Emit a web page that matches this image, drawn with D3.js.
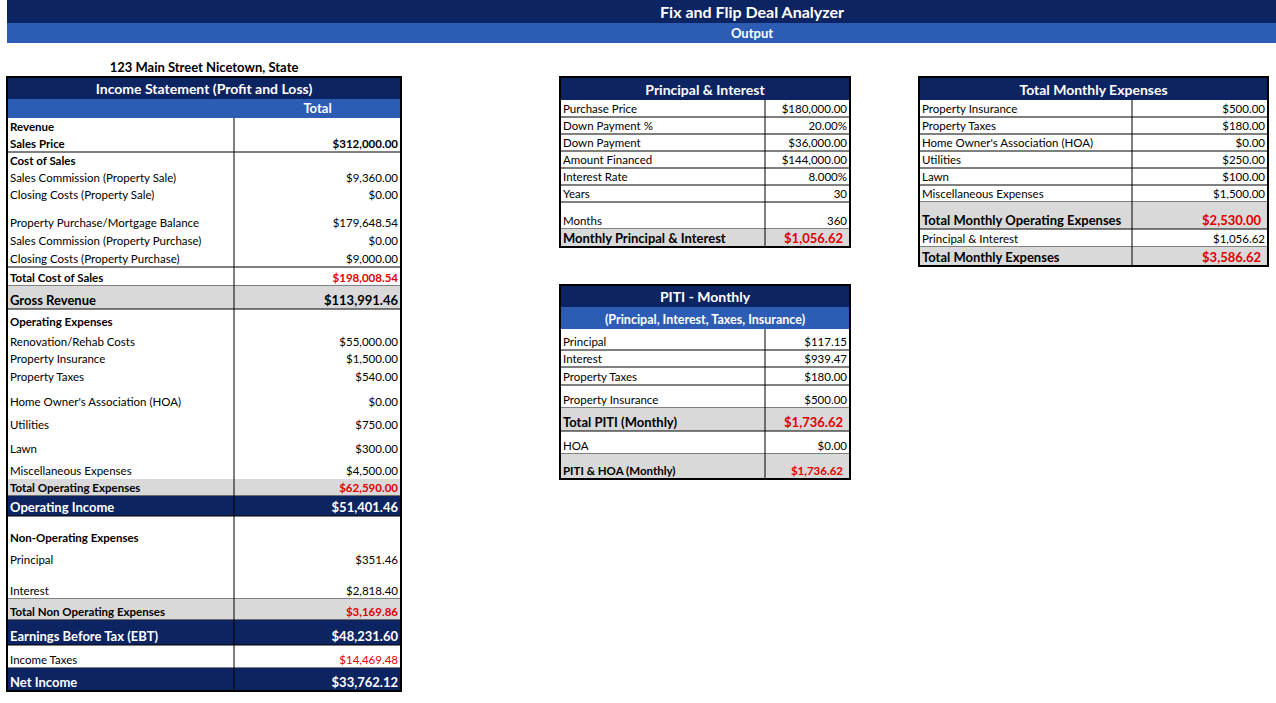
<!DOCTYPE html>
<html lang="en">
<head>
<meta charset="utf-8">
<title>Fix and Flip Deal Analyzer</title>
<script src="https://cdn.jsdelivr.net/npm/d3@7"></script>
<style>
  body { margin: 0; background: #fff; }
  text { font-family: Lato, "Open Sans", sans-serif; }
</style>
</head>
<body>
<script>
// ---- data ----
var incomeLabels = ["Revenue", "Sales Price", "Cost of Sales", "Sales Commission  (Property Sale)", "Closing Costs (Property Sale)",
  "Property Purchase/Mortgage Balance", "Sales Commission  (Property Purchase)", "Closing Costs (Property Purchase)", "Total Cost of Sales",
  "Gross Revenue", "Operating Expenses", "Renovation/Rehab Costs", "Property Insurance", "Property Taxes",
  "Home Owner's Association (HOA)", "Utilities", "Lawn", "Miscellaneous Expenses", "Total Operating Expenses",
  "Operating Income", "Non-Operating Expenses", "Principal", "Interest", "Total Non Operating Expenses",
  "Earnings Before Tax (EBT)", "Income Taxes", "Net Income"];
var incomeValues = ["", "$312,000.00", "", "$9,360.00", "$0.00", "$179,648.54", "$0.00", "$9,000.00", "$198,008.54",
  "$113,991.46", "", "$55,000.00", "$1,500.00", "$540.00", "$0.00", "$750.00", "$300.00", "$4,500.00", "$62,590.00",
  "$51,401.46", "", "$351.46", "$2,818.40", "$3,169.86", "$48,231.60", "$14,469.48", "$33,762.12"];
var incomeKinds = ["bold", "bold", "bold", "plain", "plain", "plain", "plain", "plain", "total",
  "gray", "bold", "plain", "plain", "plain", "plain", "plain", "plain", "plain", "totalg",
  "navy", "bold", "plain", "plain", "totalg", "navy", "red", "navy"];
var incomeBorders = [0, 1, 0, 0, 0, 0, 0, 1, 1, 1, 0, 0, 0, 0, 0, 0, 0, 0, 1, 1, 0, 0, 1, 1, 1, 1, 1];
var incomeHeights = [17, 17, 17, 17, 17, 28, 18, 18, 19, 23, 21, 20, 17, 18, 25, 23, 24, 22, 17, 20, 30, 22, 31, 21, 25, 23, 23];

var piLabels = ["Purchase Price", "Down Payment %", "Down Payment", "Amount Financed", "Interest Rate", "Years", "Months", "Monthly Principal & Interest"];
var piValues = ["$180,000.00", "20.00%", "$36,000.00", "$144,000.00", "8.000%", "30", "360", "$1,056.62"];
var piKinds = ["plain", "plain", "plain", "plain", "plain", "plain", "plain", "grayred"];
var piHeights = [17, 17, 17, 17, 17, 17, 27, 18];

var pitiLabels = ["Principal", "Interest", "Property Taxes", "Property Insurance", "Total PITI (Monthly)", "HOA", "PITI & HOA (Monthly)"];
var pitiValues = ["$117.15", "$939.47", "$180.00", "$500.00", "$1,736.62", "$0.00", "$1,736.62"];
var pitiKinds = ["plain", "plain", "plain", "plain", "grayred", "plain", "grayredsm"];
var pitiHeights = [21, 17, 18, 23, 23, 23, 25];

var expLabels = ["Property Insurance", "Property Taxes", "Home Owner's Association (HOA)", "Utilities", "Lawn", "Miscellaneous Expenses",
  "Total Monthly Operating Expenses", "Principal & Interest", "Total Monthly Expenses"];
var expValues = ["$500.00", "$180.00", "$0.00", "$250.00", "$100.00", "$1,500.00", "$2,530.00", "$1,056.62", "$3,586.62"];
var expKinds = ["plain", "plain", "plain", "plain", "plain", "plain", "grayred", "plain", "grayred"];
var expHeights = [17, 17, 17, 17, 17, 17, 27, 18, 19];

// ---- drawing ----
var W = 1276, H = 703;
var NAVY = "#0c2461", BLUE = "#2d5cb5", GRAY = "#d9d9d9", RED = "#e00000";

var svg = d3.select("body").append("svg").attr("width", W).attr("height", H);

svg.append("rect").attr("x", 7).attr("y", 0).attr("width", W - 7).attr("height", 23).attr("fill", NAVY);
svg.append("rect").attr("x", 7).attr("y", 23).attr("width", W - 7).attr("height", 20).attr("fill", BLUE);
svg.append("text").attr("x", 752).attr("y", 18).attr("text-anchor", "middle").attr("fill", "#fff")
  .attr("font-size", "16px").attr("font-weight", "bold").text("Fix and Flip Deal Analyzer");
svg.append("text").attr("x", 752).attr("y", 38).attr("text-anchor", "middle").attr("fill", "#fff")
  .attr("font-size", "13px").attr("font-weight", "bold").text("Output");
svg.append("text").attr("x", 204).attr("y", 72).attr("text-anchor", "middle").attr("fill", "#000")
  .attr("font-size", "13px").attr("font-weight", "bold").text("123 Main Street Nicetown, State");

function drawTable(t) {
  var g = svg.append("g");
  var y = t.y0;
  // header bands
  t.heads.forEach(function(h) {
    g.append("rect").attr("x", t.x0).attr("y", y).attr("width", t.x1 - t.x0).attr("height", h.h).attr("fill", h.fill);
    g.append("text").attr("x", h.right ? (t.xd + t.x1) / 2 : (t.x0 + t.x1) / 2).attr("y", y + h.h - 5)
      .attr("text-anchor", "middle").attr("fill", "#fff").attr("font-weight", "bold")
      .attr("font-size", h.size).text(h.text);
    y += h.h;
  });
  var bodyTop = y;
  var tops = [];
  t.heights.forEach(function(h) { tops.push(y); y += h; });
  var bodyBottom = y;

  var rows = g.selectAll("g.row").data(t.labels).enter().append("g").attr("class", "row");
  rows.each(function(d, i) {
    var r = d3.select(this), k = t.kinds[i], top = tops[i], h = t.heights[i];
    var fill = (k === "gray" || k === "totalg" || k.indexOf("grayred") === 0) ? GRAY : (k === "navy" ? NAVY : null);
    if (fill) r.append("rect").attr("x", t.x0).attr("y", top).attr("width", t.x1 - t.x0).attr("height", h).attr("fill", fill);
    if (t.borders[i]) r.append("line").attr("x1", t.x0).attr("x2", t.x1).attr("y1", top + h).attr("y2", top + h)
      .attr("stroke", "#000").attr("stroke-width", 1);
    var big = (k === "gray" || k === "navy" || k === "grayred");
    var bold = k !== "plain" && k !== "red";
    var size = big ? "13px" : "11.5px";
    r.append("text").attr("x", t.x0 + 3).attr("y", top + h - 4).attr("font-size", size)
      .attr("font-weight", bold ? "bold" : "normal").attr("fill", k === "navy" ? "#fff" : "#000").text(d);
    var vc = k === "navy" ? "#fff" : ((k === "total" || k === "totalg" || k === "red" || k.indexOf("grayred") === 0) ? RED : "#000");
    r.append("text").attr("x", t.x1 - (k.indexOf("grayred") === 0 ? 7 : 3)).attr("y", top + h - 4).attr("text-anchor", "end")
      .attr("font-size", size).attr("font-weight", bold ? "bold" : "normal").attr("fill", vc).text(t.values[i]);
  });
  g.append("line").attr("x1", t.xd).attr("x2", t.xd).attr("y1", bodyTop).attr("y2", bodyBottom).attr("stroke", "#000");
  g.append("rect").attr("x", t.x0).attr("y", t.y0).attr("width", t.x1 - t.x0).attr("height", bodyBottom - t.y0)
    .attr("fill", "none").attr("stroke", "#000").attr("stroke-width", 2);
}

drawTable({ x0: 7, x1: 401, xd: 234, y0: 77,
  heads: [{ text: "Income Statement (Profit and Loss)", h: 22, fill: NAVY, size: "14px" },
          { text: "Total", h: 19, fill: BLUE, size: "13px", right: true }],
  labels: incomeLabels, values: incomeValues, kinds: incomeKinds, borders: incomeBorders, heights: incomeHeights });

drawTable({ x0: 560, x1: 850, xd: 765, y0: 77,
  heads: [{ text: "Principal & Interest", h: 23, fill: NAVY, size: "14px" }],
  labels: piLabels, values: piValues, kinds: piKinds, borders: piLabels.map(function() { return 1; }), heights: piHeights });

drawTable({ x0: 560, x1: 850, xd: 765, y0: 285,
  heads: [{ text: "PITI - Monthly", h: 22, fill: NAVY, size: "14px" },
          { text: "(Principal, Interest, Taxes, Insurance)", h: 22, fill: BLUE, size: "12.5px" }],
  labels: pitiLabels, values: pitiValues, kinds: pitiKinds, borders: pitiLabels.map(function() { return 1; }), heights: pitiHeights });

drawTable({ x0: 919, x1: 1268, xd: 1132, y0: 77,
  heads: [{ text: "Total Monthly Expenses", h: 23, fill: NAVY, size: "14px" }],
  labels: expLabels, values: expValues, kinds: expKinds, borders: expLabels.map(function() { return 1; }), heights: expHeights });
</script>
</body>
</html>
